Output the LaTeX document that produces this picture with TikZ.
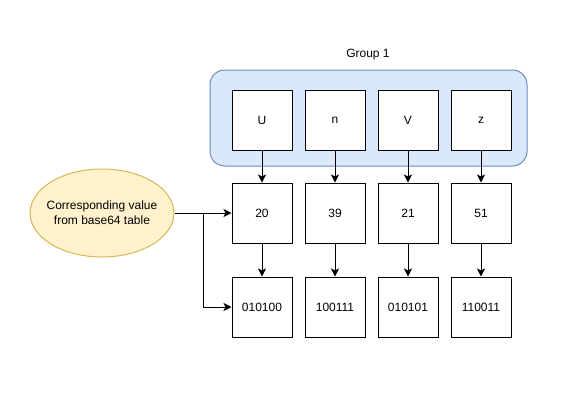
\documentclass[tikz,border=0pt]{standalone}
\usepackage{fontspec}
\setmainfont{Liberation Sans}
\usepackage{tikz}
\usetikzlibrary{arrows,arrows.meta,shapes}
\definecolor{groupfill}{HTML}{DAE8FC}
\definecolor{groupline}{HTML}{6C8EBF}
\definecolor{notefill}{HTML}{FFF2CC}
\definecolor{noteline}{HTML}{D6B656}
\tikzset{cell/.style={draw,fill=white,line width=.75pt,minimum size=45pt,inner sep=0pt,font=\fontsize{9}{11}\selectfont},
    link/.style={-{Stealth[length=6pt,width=6pt,inset=1.5pt]},line width=.75pt}}

\begin{document}
\begin{tikzpicture}[x=.75pt,y=-.75pt]
  \useasboundingbox (0,0) rectangle (565,404);
  \draw[rounded corners=11pt,fill=groupfill,draw=groupline,line width=.75pt] (210,70) rectangle (527,166);
  \node[font=\fontsize{9}{11}\selectfont] (g) at (368,55) {Group 1};
  \node[cell] (0) at (262,120) {U};
  \node[cell] (1) at (335,120) {n};
  \node[cell] (2) at (408,120) {V};
  \node[cell] (3) at (481,120) {z};
  \node[cell] (4) at (262,213) {20};
  \node[cell] (5) at (335,213) {39};
  \node[cell] (6) at (408,213) {21};
  \node[cell] (7) at (481,213) {51};
  \node[cell] (8) at (262,307) {010100};
  \node[cell] (9) at (335,307) {100111};
  \node[cell] (10) at (408,307) {010101};
  \node[cell] (11) at (481,307) {110011};
  \node[ellipse,draw=noteline,fill=notefill,line width=.75pt,minimum width=108pt,minimum height=66pt,inner xsep=-4.3pt,inner ysep=0pt,align=center,font=\fontsize{9}{11}\selectfont] (e) at (102,213) {Corresponding value\\from base64 table};
  \coordinate (b) at (203,213);
  \draw[link] (0)--(4);
  \draw[link] (1)--(5);
  \draw[link] (2)--(6);
  \draw[link] (3)--(7);
  \draw[link] (4)--(8);
  \draw[link] (5)--(9);
  \draw[link] (6)--(10);
  \draw[link] (7)--(11);
  \draw[link] (e)--(4);
  \draw[link] (b)|-(8);
\end{tikzpicture}
\end{document}
